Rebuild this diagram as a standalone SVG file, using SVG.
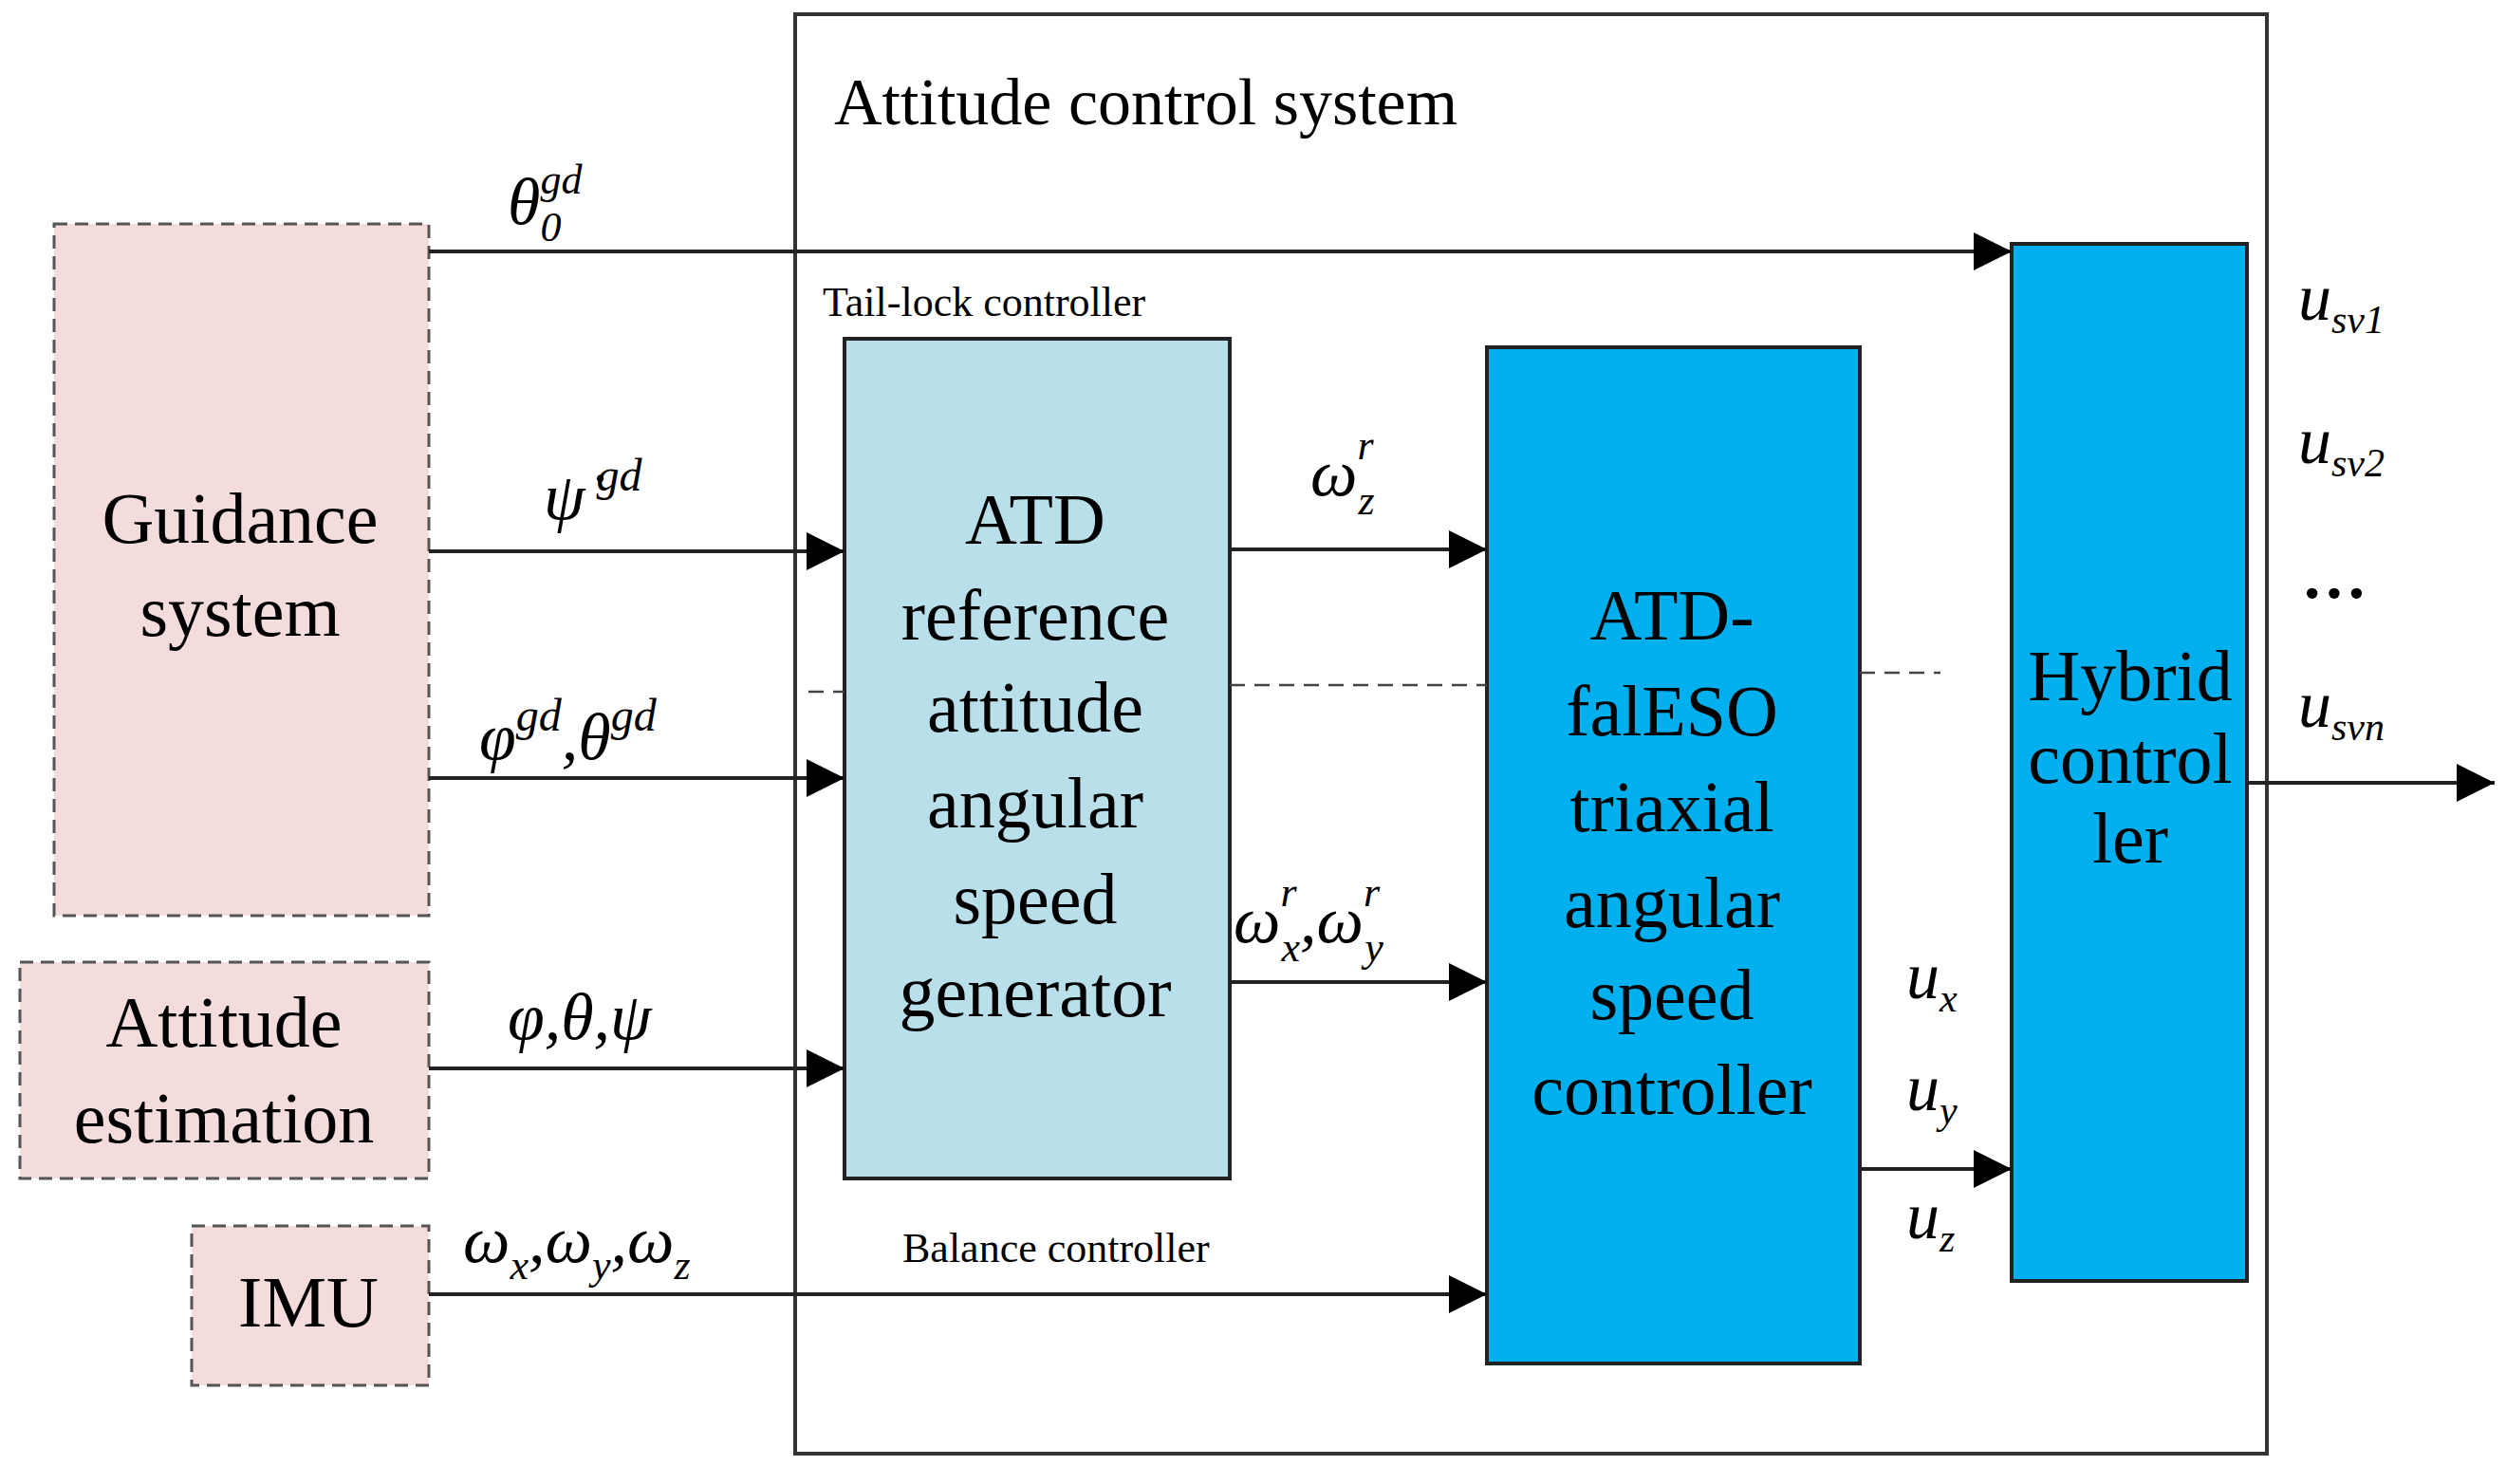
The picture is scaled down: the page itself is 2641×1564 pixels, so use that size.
<svg xmlns="http://www.w3.org/2000/svg" width="2641" height="1564" viewBox="0 0 2641 1564">
<style>
text{font-family:"Liberation Serif","Times New Roman",serif;fill:#000}
.big{font-size:76px;text-anchor:middle}
.m{font-style:italic;font-size:70px}
.s{font-size:44px}
.ln{stroke:#222;stroke-width:4;fill:none}
.ext{fill:#f3dcdb;stroke:#555;stroke-width:3;stroke-dasharray:14,8}
.dash{stroke:#444;stroke-width:2.5;stroke-dasharray:16,10}
</style>
<defs><marker id="a" markerWidth="12" markerHeight="10" refX="12" refY="5" orient="auto" markerUnits="userSpaceOnUse" viewBox="0 0 12 10"><path d="M0,0L12,5L0,10z" fill="#000"/></marker>
<marker id="ar" viewBox="0 0 40 40" refX="40" refY="20" markerWidth="40" markerHeight="40" markerUnits="userSpaceOnUse" orient="auto"><path d="M0,0L40,20L0,40z" fill="#000"/></marker></defs>
<g id="acs"><rect x="838" y="15" width="1551" height="1517" fill="none" stroke="#333" stroke-width="4"/><text x="879" y="131" style="font-size:70px">Attitude control system</text>
<text x="867" y="333" class="s">Tail-lock controller</text><text x="951" y="1330" class="s">Balance controller</text></g>
<g id="guidance"><rect x="57" y="236" width="395" height="729" class="ext"/><text class="big" x="253" y="572">Guidance</text><text class="big" x="253" y="670">system</text></g>
<g id="attest"><rect x="21" y="1014" width="431" height="228" class="ext"/><text class="big" x="236" y="1103">Attitude</text><text class="big" x="236" y="1204">estimation</text></g>
<g id="imu"><rect x="202" y="1292" width="250" height="168" class="ext"/><text class="big" x="325" y="1398">IMU</text></g>
<g id="atd"><rect x="890" y="357" width="406" height="885" fill="#b8dfea" stroke="#222" stroke-width="4"/>
<text class="big" x="1091" y="573">ATD</text><text class="big" x="1091" y="674">reference</text><text class="big" x="1091" y="771">attitude</text><text class="big" x="1091" y="872">angular</text><text class="big" x="1091" y="973">speed</text><text class="big" x="1091" y="1071">generator</text></g>
<g id="eso"><rect x="1567" y="366" width="393" height="1071" fill="#00b0ee" stroke="#222" stroke-width="4"/>
<text class="big" x="1762" y="674">ATD-</text><text class="big" x="1762" y="775">falESO</text><text class="big" x="1762" y="876">triaxial</text><text class="big" x="1762" y="977">angular</text><text class="big" x="1762" y="1074">speed</text><text class="big" x="1762" y="1174">controller</text></g>
<g id="hybrid"><rect x="2120" y="257" width="248" height="1093" fill="#00b0ee" stroke="#222" stroke-width="4"/>
<text class="big" x="2245" y="738">Hybrid</text><text class="big" x="2245" y="825">control</text><text class="big" x="2245" y="909">ler</text></g>
<g id="connectors">
<path class="ln" d="M452,265H2120" marker-end="url(#ar)"/>
<path class="ln" d="M452,581H890" marker-end="url(#ar)"/>
<path class="ln" d="M452,820H890" marker-end="url(#ar)"/>
<path class="ln" d="M452,1126H890" marker-end="url(#ar)"/>
<path class="ln" d="M452,1364H1567" marker-end="url(#ar)"/>
<path class="ln" d="M1296,579H1567" marker-end="url(#ar)"/>
<path class="ln" d="M1296,1035H1567" marker-end="url(#ar)"/>
<path class="ln" d="M1960,1232H2120" marker-end="url(#ar)"/>
<path class="ln" d="M2368,825H2629" marker-end="url(#ar)"/>
<path class="dash" d="M852,729H890M1296,722H1567M1960,709H2045"/>
</g>
<g id="labels">
<text class="m" x="535" y="236">θ<tspan font-size="44" dy="18">0</tspan><tspan font-size="44" dx="-22" dy="-50">gd</tspan></text>
<text class="m" x="573" y="547">ψ̇<tspan font-size="48" dx="12" dy="-30">gd</tspan></text>
<text class="m" x="505" y="800">φ<tspan font-size="48" dy="-30">gd</tspan><tspan dy="30">,θ</tspan><tspan font-size="48" dy="-30">gd</tspan></text>
<text class="m" x="535" y="1095">φ,θ,ψ</text>
<text class="m" x="488" y="1330">ω<tspan font-size="44" dy="18">x</tspan><tspan dy="-18">,ω</tspan><tspan font-size="44" dy="18">y</tspan><tspan dy="-18">,ω</tspan><tspan font-size="44" dy="18">z</tspan></text>
<text class="m" x="1381" y="522">ω<tspan font-size="44" dy="-38">r</tspan><tspan font-size="44" dx="-16" dy="58">z</tspan></text>
<text class="m" x="1300" y="993">ω<tspan font-size="44" dy="-38">r</tspan><tspan font-size="44" dx="-16" dy="58">x</tspan><tspan dy="-20">,ω</tspan><tspan font-size="44" dy="-38">r</tspan><tspan font-size="44" dx="-16" dy="58">y</tspan></text>
<text class="m" x="2422" y="337">u<tspan font-size="42" dy="14">sv1</tspan></text>
<text class="m" x="2422" y="488">u<tspan font-size="42" dy="14">sv2</tspan></text>
<text x="2425" y="648" style="font-size:70px;font-weight:bold">···</text>
<text class="m" x="2422" y="766">u<tspan font-size="42" dy="14">svn</tspan></text>
<text class="m" x="2009" y="1052">u<tspan font-size="42" dy="14">x</tspan></text>
<text class="m" x="2009" y="1170">u<tspan font-size="42" dy="14">y</tspan></text>
<text class="m" x="2009" y="1305">u<tspan font-size="42" dy="14">z</tspan></text>
</g>
</svg>
